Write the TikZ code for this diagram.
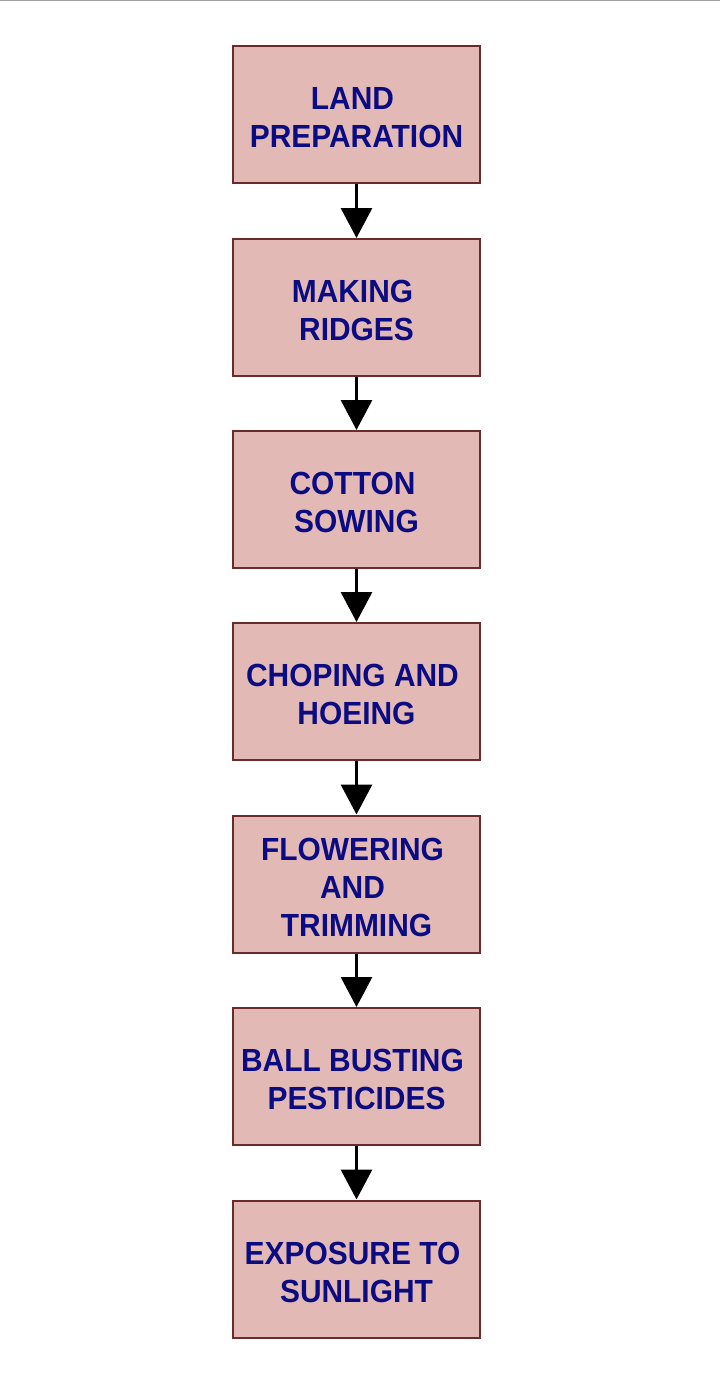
\documentclass[tikz,border=0pt]{standalone}
\usepackage{fontspec}
\setmainfont{Liberation Sans}[FakeStretch=0.935]
\usetikzlibrary{arrows.meta}
\definecolor{boxfill}{HTML}{E3B9B6}
\definecolor{boxline}{HTML}{6A2B2B}
\definecolor{txt}{HTML}{0C0C82}
\definecolor{topline}{HTML}{A0A0A0}
\tikzset{
  stepbox/.style={draw=boxline, line width=2pt, fill=boxfill, minimum width=247pt, minimum height=137pt, inner sep=0pt},
  steptext/.style={align=center, text=txt, inner sep=0pt, yshift=-3pt, font=\fontsize{32pt}{38pt}\selectfont\bfseries},
  flow/.style={line width=3pt, -{Triangle[width=31pt,length=30pt]}}
}
\newcommand{\tsp}{\kern8pt}
\begin{document}
\begin{tikzpicture}[x=1pt,y=-1pt]
\useasboundingbox (0,0) rectangle (720,1391);
\fill[white] (0,0) rectangle (720,1391);
\draw[topline, line width=1.5pt] (0,0.5) -- (720,0.5);
\node[stepbox] (s1) at (356.5,114.5) {};
\node[stepbox] (s2) at (356.5,307.5) {};
\node[stepbox] (s3) at (356.5,499.5) {};
\node[stepbox] (s4) at (356.5,691.5) {};
\node[stepbox] (s5) at (356.5,884) {};
\node[stepbox] (s6) at (356.5,1076.5) {};
\node[stepbox] (s7) at (356.5,1269) {};
\node[steptext] (t1) at (s1) {LAND\tsp\\PREPARATION};
\node[steptext] (t2) at (s2) {MAKING\tsp\\RIDGES};
\node[steptext] (t3) at (s3) {COTTON\tsp\\SOWING};
\node[steptext] (t4) at (s4) {CHOPING AND\tsp\\HOEING};
\node[steptext] (t5) at (s5) {FLOWERING\tsp\\AND\tsp\\TRIMMING};
\node[steptext] (t6) at (s6) {BALL BUSTING\tsp\\PESTICIDES};
\node[steptext] (t7) at (s7) {EXPOSURE TO\tsp\\SUNLIGHT};
\foreach \a/\b in {s1/s2,s2/s3,s3/s4,s4/s5,s5/s6,s6/s7}
  \draw[flow] (\a.south) -- (\b.north);
\end{tikzpicture}
\end{document}
